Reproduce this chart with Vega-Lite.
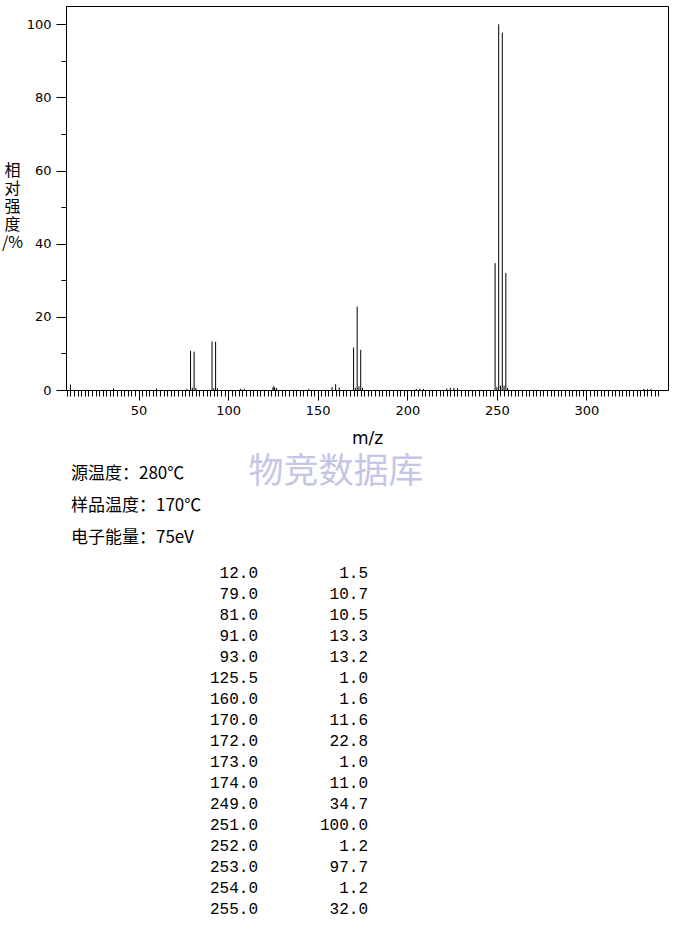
{
  "$schema": "https://vega.github.io/schema/vega-lite/v6.json",
  "background": "white",
  "padding": {"left": 0, "top": 5, "right": 5, "bottom": 5},
  "bounds": "flush",
  "spacing": 68,
  "config": {
    "view": {"stroke": null},
    "font": "DejaVu Sans",
    "axis": {"domainColor": "black", "tickColor": "black", "labelColor": "black", "titleColor": "black", "grid": false, "domainWidth": 1, "tickWidth": 1}
  },
  "datasets": {
    "peaks": [
      {"mz": 12, "intensity": 1.5, "listed": true},
      {"mz": 36, "intensity": 0.4, "listed": false},
      {"mz": 60, "intensity": 0.4, "listed": false},
      {"mz": 77, "intensity": 0.3, "listed": false},
      {"mz": 79, "intensity": 10.7, "listed": true},
      {"mz": 80, "intensity": 0.6, "listed": false},
      {"mz": 81, "intensity": 10.5, "listed": true},
      {"mz": 82, "intensity": 0.6, "listed": false},
      {"mz": 91, "intensity": 13.3, "listed": true},
      {"mz": 92, "intensity": 0.5, "listed": false},
      {"mz": 93, "intensity": 13.2, "listed": true},
      {"mz": 94, "intensity": 0.5, "listed": false},
      {"mz": 107, "intensity": 0.3, "listed": false},
      {"mz": 109, "intensity": 0.3, "listed": false},
      {"mz": 125, "intensity": 0.7, "listed": false},
      {"mz": 125.5, "intensity": 1.0, "listed": true},
      {"mz": 126, "intensity": 0.7, "listed": false},
      {"mz": 127, "intensity": 0.5, "listed": false},
      {"mz": 145, "intensity": 0.3, "listed": false},
      {"mz": 158, "intensity": 0.8, "listed": false},
      {"mz": 160, "intensity": 1.6, "listed": true},
      {"mz": 162, "intensity": 0.7, "listed": false},
      {"mz": 170, "intensity": 11.6, "listed": true},
      {"mz": 171, "intensity": 0.6, "listed": false},
      {"mz": 172, "intensity": 22.8, "listed": true},
      {"mz": 173, "intensity": 1.0, "listed": true},
      {"mz": 174, "intensity": 11.0, "listed": true},
      {"mz": 175, "intensity": 0.6, "listed": false},
      {"mz": 205, "intensity": 0.3, "listed": false},
      {"mz": 207, "intensity": 0.4, "listed": false},
      {"mz": 209, "intensity": 0.3, "listed": false},
      {"mz": 222, "intensity": 0.4, "listed": false},
      {"mz": 224, "intensity": 0.6, "listed": false},
      {"mz": 226, "intensity": 0.6, "listed": false},
      {"mz": 228, "intensity": 0.5, "listed": false},
      {"mz": 249, "intensity": 34.7, "listed": true},
      {"mz": 250, "intensity": 0.8, "listed": false},
      {"mz": 251, "intensity": 100.0, "listed": true},
      {"mz": 252, "intensity": 1.2, "listed": true},
      {"mz": 253, "intensity": 97.7, "listed": true},
      {"mz": 254, "intensity": 1.2, "listed": true},
      {"mz": 255, "intensity": 32.0, "listed": true},
      {"mz": 256, "intensity": 0.6, "listed": false},
      {"mz": 332, "intensity": 0.3, "listed": false},
      {"mz": 334, "intensity": 0.3, "listed": false},
      {"mz": 336, "intensity": 0.3, "listed": false}
    ],
    "info": [
      {"line": "源温度：280℃"},
      {"line": "样品温度：170℃"},
      {"line": "电子能量：75eV"}
    ]
  },
  "vconcat": [
    {
      "width": 602,
      "height": 384,
      "view": {"stroke": "black", "strokeWidth": 1},
      "data": {"name": "peaks"},
      "mark": {"type": "rule", "color": "black", "strokeWidth": 1},
      "encoding": {
        "x": {
          "field": "mz",
          "type": "quantitative",
          "scale": {"domain": [9.5, 345.5], "nice": false, "zero": false},
          "axis": {
            "values": [10,12,14,16,18,20,22,24,26,28,30,32,34,36,38,40,42,44,46,48,50,52,54,56,58,60,62,64,66,68,70,72,74,76,78,80,82,84,86,88,90,92,94,96,98,100,102,104,106,108,110,112,114,116,118,120,122,124,126,128,130,132,134,136,138,140,142,144,146,148,150,152,154,156,158,160,162,164,166,168,170,172,174,176,178,180,182,184,186,188,190,192,194,196,198,200,202,204,206,208,210,212,214,216,218,220,222,224,226,228,230,232,234,236,238,240,242,244,246,248,250,252,254,256,258,260,262,264,266,268,270,272,274,276,278,280,282,284,286,288,290,292,294,296,298,300,302,304,306,308,310,312,314,316,318,320,322,324,326,328,330,332,334,336,338,340],
            "labelExpr": "datum.value % 50 === 0 ? datum.label : ''",
            "labelOverlap": false,
            "labelFlush": false,
            "labelFontSize": 13,
            "labelPadding": 4,
            "tickSize": {"condition": {"test": "datum.value % 50 === 0", "value": 10}, "value": 6},
            "title": "m/z",
            "titleFontSize": 17,
            "titleFontWeight": "normal",
            "titlePadding": 13
          }
        },
        "y": {
          "field": "intensity",
          "type": "quantitative",
          "scale": {"domain": [0, 105], "nice": false, "zero": true},
          "axis": {
            "values": [0,10,20,30,40,50,60,70,80,90,100],
            "labelExpr": "datum.value % 20 === 0 ? datum.label : ''",
            "labelOverlap": false,
            "labelFlush": false,
            "labelFontSize": 13,
            "labelPadding": 5,
            "tickSize": {"condition": {"test": "datum.value % 20 === 0", "value": 10}, "value": 5},
            "title": ["相", "对", "强", "度", "/%"],
            "titleAngle": 0,
            "titleAlign": "center",
            "titleBaseline": "middle",
            "titleX": -54,
            "titleY": 164,
            "titleFont": "Noto Sans CJK SC",
            "titleFontSize": 16,
            "titleFontWeight": "normal",
            "titleLineHeight": 18
          }
        },
        "y2": {"datum": 0}
      }
    },
    {
      "bounds": "flush",
      "spacing": 8,
      "vconcat": [
        {
          "width": 602,
          "height": 96,
          "layer": [
            {
              "data": {"name": "info"},
              "mark": {"type": "text", "align": "left", "baseline": "middle", "font": "Noto Sans CJK SC", "fontSize": 17, "color": "black"},
              "encoding": {
                "y": {"field": "line", "type": "nominal", "sort": null, "axis": null},
                "x": {"datum": 5, "type": "quantitative", "scale": {"domain": [0, 602], "nice": false, "zero": false}, "axis": null},
                "text": {"field": "line"}
              }
            },
            {
              "data": {"values": [{"label": "物竞数据库"}]},
              "mark": {"type": "text", "align": "center", "baseline": "middle", "font": "Noto Sans CJK SC", "fontSize": 35, "color": "#c5c5e6", "dy": -2},
              "encoding": {
                "y": {"datum": "源温度：280℃", "type": "nominal"},
                "x": {"datum": 270, "type": "quantitative"},
                "text": {"field": "label"}
              }
            }
          ]
        },
        {
          "width": 602,
          "height": 357,
          "data": {"name": "peaks"},
          "transform": [{"filter": "datum.listed"}],
          "encoding": {
            "y": {"field": "mz", "type": "ordinal", "sort": null, "axis": null}
          },
          "layer": [
            {
              "mark": {"type": "text", "align": "right", "baseline": "middle", "font": "Liberation Mono", "fontSize": 16, "color": "black"},
              "encoding": {
                "x": {"datum": 192, "type": "quantitative", "scale": {"domain": [0, 602], "nice": false, "zero": false}, "axis": null},
                "text": {"field": "mz", "format": ".1f"}
              }
            },
            {
              "mark": {"type": "text", "align": "right", "baseline": "middle", "font": "Liberation Mono", "fontSize": 16, "color": "black"},
              "encoding": {
                "x": {"datum": 302, "type": "quantitative"},
                "text": {"field": "intensity", "format": ".1f"}
              }
            }
          ]
        }
      ]
    }
  ]
}
